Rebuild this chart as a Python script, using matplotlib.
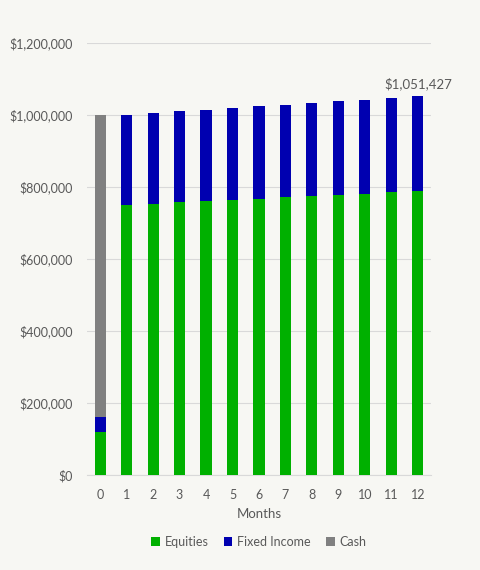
import matplotlib.pyplot as plt
from matplotlib.ticker import FuncFormatter

plt.rcParams['font.family'] = ['Lato', 'DejaVu Sans']

months = list(range(13))
equities = [120000, 750000, 753600, 758000, 761000, 764000, 767000,
            772000, 775000, 778000, 781000, 786000, 788570]
fixed_income = [40000, 250000, 251900, 253000, 253000, 255000, 258000,
                256000, 258000, 261000, 261000, 261000, 262857]
cash = [840000, 0, 0, 0, 0, 0, 0, 0, 0, 0, 0, 0, 0]
final_label = '$1,051,427'

bg = '#f7f7f3'
txt = '#595959'

fig = plt.figure(figsize=(4.8, 5.7), dpi=100, facecolor=bg)
ax = fig.add_axes([0.181, 0.1667, 0.717, 0.758], facecolor=bg)

w = 0.42
ax.bar(months, equities, w, color='#00b000', label='Equities', zorder=3)
bottom2 = [e for e in equities]
ax.bar(months, fixed_income, w, bottom=bottom2, color='#0000b0',
       label='Fixed Income', zorder=3)
bottom3 = [e + f for e, f in zip(equities, fixed_income)]
ax.bar(months, cash, w, bottom=bottom3, color='#808080', label='Cash', zorder=3)

total_last = equities[-1] + fixed_income[-1] + cash[-1]
ax.text(months[-1], total_last + 18000, final_label, ha='center', va='bottom',
        fontsize=9.5, color=txt)

ax.set_xlim(-0.5, 12.5)
ax.set_ylim(0, 1200000)
ax.set_yticks(range(0, 1200001, 200000))
ax.yaxis.set_major_formatter(FuncFormatter(lambda v, p: '${:,.0f}'.format(v)))
ax.set_xticks(months)
ax.grid(axis='y', color='#d9d9d9', linewidth=0.8, zorder=0)
for s in ['top', 'right', 'left']:
    ax.spines[s].set_visible(False)
ax.spines['bottom'].set_color('#d9d9d9')
ax.tick_params(length=0, colors=txt, labelsize=9)
ax.tick_params(axis='y', pad=10)
ax.tick_params(axis='x', pad=10)
ax.set_xlabel('Months', color=txt, fontsize=9.5, labelpad=5)

ax.legend(loc='upper center', bbox_to_anchor=(0.5, -0.115), ncol=3, frameon=False,
          fontsize=9, labelcolor=txt, handlelength=0.7, handleheight=0.7,
          handletextpad=0.4, columnspacing=1.2)

fig.savefig('out.png', dpi=100, facecolor=bg)
